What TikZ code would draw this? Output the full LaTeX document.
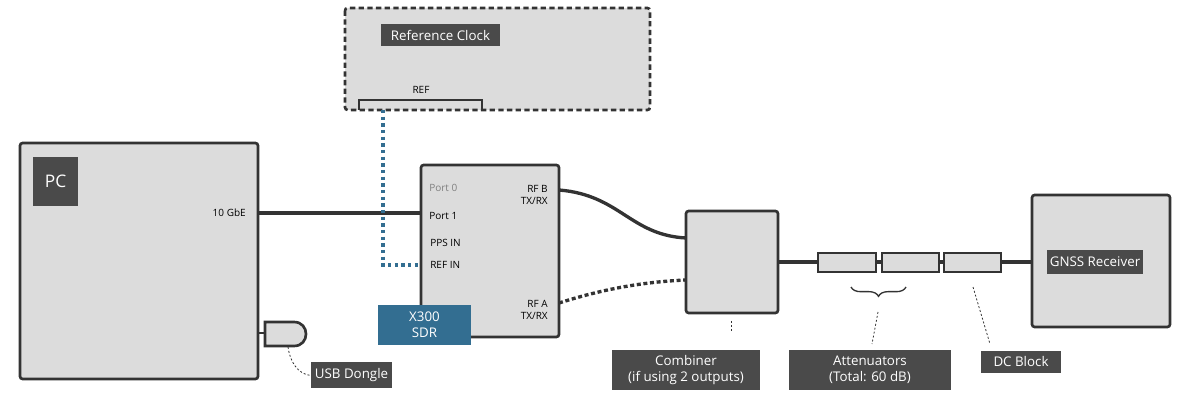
\documentclass[tikz,border=0pt]{standalone}
\usepackage{fontspec}
\setmainfont{Open Sans}
\usetikzlibrary{decorations.pathreplacing}
\definecolor{boxg}{HTML}{DCDCDC}
\definecolor{edge}{HTML}{333333}
\definecolor{dark}{HTML}{4A4A4A}
\definecolor{sdr}{HTML}{336E91}
\begin{document}
\begin{tikzpicture}[x=0.75pt,y=-0.75pt,
  blk/.style={draw=edge,fill=boxg,line width=2pt,rounded corners=2pt},
  lab/.style={fill=dark,text=white,font=\fontsize{10}{12}\selectfont,inner sep=0pt,align=center},
  port/.style={font=\fontsize{7.5}{9}\selectfont,inner sep=0pt},
  wire/.style={draw=edge,line width=2.5pt},
  lead/.style={draw=edge,dash pattern=on 1.5pt off 1.5pt,line width=0.6pt}]
\useasboundingbox (0,0) rectangle (1192,402);
% reference clock
\draw[blk,dash pattern=on 4pt off 2.5pt] (345,8) rectangle (650,110);
\node[lab,minimum width=89pt,minimum height=16.5pt] (rc) at (440.5,35) {Reference Clock};
\draw[edge,line width=0.8pt] (359,110) -- (359,100) -- (482,100) -- (482,110);
\node[port] (ref) at (421,90) {REF};
\coordinate (refout) at (383,110);
% PC
\draw[blk] (20,143) rectangle (258,379);
\node[lab,minimum width=34pt,minimum height=37pt,font=\fontsize{13}{15}\selectfont] (pc) at (55.5,181.5) {PC};
\node[port,anchor=east] (gbe) at (246,213) {10 GbE};
\coordinate (pcout) at (258,213);
% USB dongle
\draw[edge,line width=2pt] (258,333) -- (265,333);
\draw[edge,line width=2pt,fill=boxg] (265,322) -- (294,322) .. controls (310,322) and (310,346) .. (294,346) -- (265,346) -- cycle;
\node[lab,minimum width=61pt,minimum height=19.5pt] (usb) at (351.5,375.5) {USB Dongle};
\draw[lead] (288,347) .. controls (290,362) and (298,374) .. (usb.west);
% X300
\draw[blk] (421,165) rectangle (559,337);
\node[port,anchor=west,text=gray] (p0) at (429,188) {Port 0};
\node[port,anchor=west] (p1) at (429,216) {Port 1};
\node[port,anchor=west] (pps) at (430,243) {PPS IN};
\node[port,anchor=west] (refin) at (430,265) {REF IN};
\node[port,anchor=east,align=right] (rfb) at (548,195) {RF B\\TX/RX};
\node[port,anchor=east,align=right] (rfa) at (548,310) {RF A\\TX/RX};
\node[fill=sdr,text=white,font=\fontsize{10}{12}\selectfont,align=center,minimum width=70pt,minimum height=30pt,inner sep=0pt] (sdr) at (424.5,325) {X300\\SDR};
\coordinate (x3l1) at (421,213);
\coordinate (x3lr) at (421,265);
\coordinate (x3b) at (559,190);
\coordinate (x3a) at (559,303);
\draw[wire] (pcout) -- (x3l1);
\draw[sdr,line width=2.5pt,dash pattern=on 2.5pt off 2.5pt] (refout) -- (383,265) -- (x3lr);
% combiner
\draw[blk] (686,211) rectangle (778,313);
\coordinate (cb) at (686,238);
\coordinate (ca) at (686,280);
\draw[wire] (x3b) .. controls (620,195) and (630,235) .. (cb);
\draw[wire,dash pattern=on 3pt off 2pt] (x3a) .. controls (600,290) and (640,282) .. (ca);
\draw[lead] (731,321) -- (731,331);
\node[lab,minimum width=111pt,minimum height=30pt] (comb) at (686,370) {Combiner\\(if using 2 outputs)};
% chain
\coordinate (cout) at (778,262);
\coordinate (gin) at (1032,262);
\draw[wire] (cout) -- (gin);
\draw[blk,rounded corners=0pt] (818,253) rectangle (876,272);
\draw[blk,rounded corners=0pt] (882,253) rectangle (939,272);
\draw[blk,rounded corners=0pt] (944,253) rectangle (1001,272);
\draw[edge,line width=1pt,decorate,decoration={brace,amplitude=7pt}] (906,287) -- (851,287);
\node[lab,minimum width=121pt,minimum height=30pt] (att) at (870,370) {Attenuators\\(Total: 60 dB)};
\draw[lead] (878,312) -- (872,344);
\node[lab,minimum width=60pt,minimum height=17pt] (dcb) at (1021,362) {DC Block};
\draw[lead] (973,287) -- (990,344);
% GNSS
\draw[blk] (1032,195) rectangle (1170,327);
\node[lab,minimum width=72pt,minimum height=18pt] (gnss) at (1095,262) {GNSS Receiver};
\end{tikzpicture}
\end{document}
